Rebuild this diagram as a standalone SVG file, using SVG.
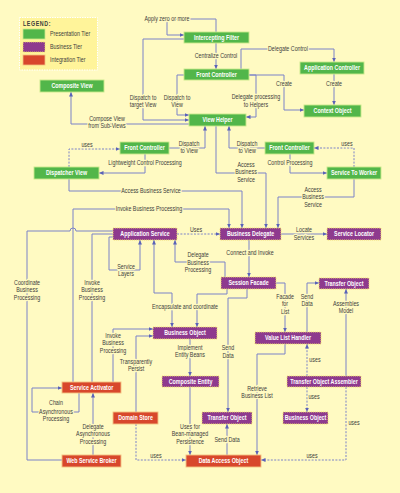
<svg xmlns="http://www.w3.org/2000/svg" width="400" height="493" viewBox="0 0 400 493">
<style>
.n rect{stroke-width:0.9}
.g rect{fill:#52b64a;stroke:#c8e88a}
.p rect{fill:#8e3a8e;stroke:#f0dc70;stroke-dasharray:1.2 0.8}
.r rect{fill:#d8472c;stroke:#f3c080}
.n text{font-family:"Liberation Sans",Arial,sans-serif;font-size:6.5px;font-weight:bold;fill:#fff;text-anchor:middle;transform:scaleX(0.82);transform-box:fill-box;transform-origin:center}
.c path{fill:none;stroke:#7b82c8;stroke-width:1}
.c path.d{stroke-dasharray:2 1.4}
.l text{font-family:"Liberation Sans",Arial,sans-serif;font-size:6.5px;fill:#3c3c3c;text-anchor:middle;paint-order:stroke;stroke:#fffac2;stroke-width:2.6px;stroke-linejoin:round;transform:scaleX(0.82);transform-box:fill-box;transform-origin:center}
.lg{font-family:"Liberation Sans",Arial,sans-serif;font-size:6.5px;fill:#3c3c3c;transform:scaleX(0.82);transform-box:fill-box;transform-origin:left}
</style>
<defs>
<marker id="a" viewBox="0 0 6 6" refX="6" refY="3" markerWidth="4.5" markerHeight="4.5" markerUnits="userSpaceOnUse" orient="auto"><path d="M0,0.3 L6,3 L0,5.7 z" fill="#5a62b8"/></marker>
<marker id="s" viewBox="0 0 6 6" refX="0" refY="3" markerWidth="4.5" markerHeight="4.5" markerUnits="userSpaceOnUse" orient="auto"><path d="M6,0.3 L0,3 L6,5.7 z" fill="#5a62b8"/></marker>
</defs>
<rect width="400" height="493" fill="#fffac2"/>
<g id="legend">
<rect x="19.5" y="17.5" width="78" height="52.5" fill="#fff49a" stroke="#ffffff" stroke-width="1" stroke-dasharray="1.5 1"/>
<text x="23" y="26.5" class="lg" style="font-weight:bold;letter-spacing:0.7px">LEGEND:</text>
<rect x="23" y="29" width="22" height="10" fill="#52b64a" stroke="#c8e88a" stroke-width="0.8"/>
<text x="50" y="36.5" class="lg">Presentation Tier</text>
<rect x="23" y="42" width="22" height="10" fill="#8e3a8e" stroke="#f0dc70" stroke-width="0.8" stroke-dasharray="1.2 0.8"/>
<text x="50" y="49.5" class="lg">Business Tier</text>
<rect x="23" y="55" width="22" height="10" fill="#d8472c" stroke="#f3c080" stroke-width="0.8"/>
<text x="50" y="62.5" class="lg">Integration Tier</text>
</g>
<g id="connectors" class="c">
<path d="M216,32 V19 H167 V35 H184" marker-end="url(#a)"/>
<path d="M216,43 V69" marker-end="url(#a)"/>
<path d="M241,69 V49 H334 V62" marker-end="url(#a)"/>
<path d="M334,74 V105" marker-end="url(#a)"/>
<path d="M249,75 H284 V110 H304" marker-end="url(#a)"/>
<path d="M249,75 H256 V117 H246" marker-end="url(#a)"/>
<path d="M184,39 H143 V120 H189" marker-end="url(#a)"/>
<path d="M184,75 H177 V115 H189" marker-end="url(#a)"/>
<path d="M189,124 H71 V92" marker-end="url(#a)"/>
<path d="M169,148 H205 V126" marker-end="url(#a)"/>
<path d="M265,148 H229 V126" marker-end="url(#a)"/>
<path class="d" d="M69,167 V149 H120" marker-end="url(#a)"/>
<path d="M145,154 V173 H99" marker-end="url(#a)"/>
<path class="d" d="M354,167 V148 H314" marker-end="url(#a)"/>
<path d="M290,154 V173 H327" marker-end="url(#a)"/>
<path d="M69,179 V191 H242 V228" marker-end="url(#a)"/>
<path d="M216,126 V173 H266 V228" marker-end="url(#a)"/>
<path d="M354,179 V197 H278 V228" marker-end="url(#a)"/>
<path d="M73,382 V209 H229 V228" marker-end="url(#a)"/>
<path d="M62,460 H27 V231 H70 A3,3 0 0 1 76,231 H113"/>
<path d="M92,382 V234 H113"/>
<path d="M113,382 V329 H153" marker-end="url(#a)"/>
<path d="M136,412 V336 H153" marker-end="url(#a)"/>
<path d="M79,393 V412 H32 V388 H62" marker-end="url(#a)"/>
<path d="M93,455 V393" marker-end="url(#a)"/>
<path class="d" d="M136,424 V460 H186" marker-end="url(#a)"/>
<path class="d" d="M177,234 H220" marker-end="url(#a)"/>
<path d="M281,234 H327" marker-end="url(#a)"/>
<path d="M113,237 H109 V270 H140 V240" marker-end="url(#a)"/>
<path d="M154,240 V293 H172 V327" marker-start="url(#s)" marker-end="url(#a)"/>
<path d="M227,289 V294 H197 V327" marker-end="url(#a)"/>
<path d="M247,289 V298 H228 V412" marker-end="url(#a)"/>
<path d="M225,277 V262 H175 V240" marker-end="url(#a)"/>
<path d="M249,240 V277" marker-end="url(#a)"/>
<path d="M276,283 H285 V332" marker-end="url(#a)"/>
<path d="M307,332 V283 H319" marker-end="url(#a)"/>
<path d="M346,376 V289" marker-end="url(#a)"/>
<path class="d" d="M307,376 V344" marker-end="url(#a)"/>
<path class="d" d="M307,387 V412" marker-end="url(#a)"/>
<path class="d" d="M346,387 V460 H261" marker-end="url(#a)"/>
<path d="M285,344 V354 H257 V455" marker-end="url(#a)"/>
<path d="M190,339 V376" marker-end="url(#a)"/>
<path d="M190,387 V455" marker-end="url(#a)"/>
<path d="M227,455 V424" marker-end="url(#a)"/>
</g>
<g id="labels" class="l">
<text x="167" y="21">Apply zero or more</text>
<text x="216" y="58">Centralize Control</text>
<text x="288" y="51">Delegate Control</text>
<text x="334" y="86">Create</text>
<text x="284" y="86">Create</text>
<text x="256" y="99">Delegate processing</text>
<text x="256" y="107">to Helpers</text>
<text x="143" y="100">Dispatch to</text>
<text x="143" y="107.5">target View</text>
<text x="177" y="100">Dispatch to</text>
<text x="177" y="107.5">View</text>
<text x="107" y="121">Compose View</text>
<text x="107" y="128.5">from Sub-Views</text>
<text x="189" y="146">Dispatch</text>
<text x="189" y="153.5">to View</text>
<text x="247" y="146">Dispatch</text>
<text x="247" y="153.5">to View</text>
<text x="87" y="147">uses</text>
<text x="145" y="165">Lightweight Control Processing</text>
<text x="347" y="146">uses</text>
<text x="290" y="165">Control Processing</text>
<text x="151" y="193">Access Business Service</text>
<text x="246" y="167">Access</text>
<text x="246" y="174.5">Business</text>
<text x="246" y="182">Service</text>
<text x="313" y="192">Access</text>
<text x="313" y="199.5">Business</text>
<text x="313" y="207">Service</text>
<text x="149" y="211">Invoke Business Processing</text>
<text x="27" y="285">Coordinate</text>
<text x="27" y="292.5">Business</text>
<text x="27" y="300">Processing</text>
<text x="92" y="285">Invoke</text>
<text x="92" y="292.5">Business</text>
<text x="92" y="300">Processing</text>
<text x="113" y="338">Invoke</text>
<text x="113" y="345.5">Business</text>
<text x="113" y="353">Processing</text>
<text x="136" y="364">Transparently</text>
<text x="136" y="371.5">Persist</text>
<text x="56" y="405">Chain</text>
<text x="56" y="414">Asynchronous</text>
<text x="56" y="421.5">Processing</text>
<text x="93" y="429">Delegate</text>
<text x="93" y="436.5">Asynchronous</text>
<text x="93" y="444">Processing</text>
<text x="156" y="458">uses</text>
<text x="196" y="232">Uses</text>
<text x="304" y="232">Locate</text>
<text x="304" y="240.5">Services</text>
<text x="126" y="269">Service</text>
<text x="126" y="276.5">Layers</text>
<text x="185" y="309">Encapsulate and coordinate</text>
<text x="228" y="350">Send</text>
<text x="228" y="358">Data</text>
<text x="198" y="257">Delegate</text>
<text x="198" y="265">Business</text>
<text x="198" y="272.5">Processing</text>
<text x="250" y="255">Connect and Invoke</text>
<text x="285" y="299">Facade</text>
<text x="285" y="306.5">for</text>
<text x="285" y="314">List</text>
<text x="307" y="299">Send</text>
<text x="307" y="306.5">Data</text>
<text x="346" y="306">Assembles</text>
<text x="346" y="313.5">Model</text>
<text x="315" y="362">uses</text>
<text x="314" y="399">uses</text>
<text x="354" y="425">uses</text>
<text x="312" y="458">uses</text>
<text x="257" y="391">Retrieve</text>
<text x="257" y="398.5">Business List</text>
<text x="190" y="350">Implement</text>
<text x="190" y="357.5">Entity Beans</text>
<text x="190" y="429">Uses for</text>
<text x="190" y="436.5">Bean-managed</text>
<text x="190" y="444">Persistence</text>
<text x="227" y="442">Send Data</text>
</g>
<g id="intercepting-filter" class="n g"><rect x="184" y="32" width="65" height="11"/><text x="216.5" y="39.8">Intercepting Filter</text></g>
<g id="front-controller" class="n g"><rect x="184" y="69" width="65" height="11"/><text x="216.5" y="76.8">Front Controller</text></g>
<g id="application-controller" class="n g"><rect x="300" y="62" width="64" height="12"/><text x="332" y="70.3">Application Controller</text></g>
<g id="context-object" class="n g"><rect x="304" y="105" width="57" height="12"/><text x="332.5" y="113.3">Context Object</text></g>
<g id="composite-view" class="n g"><rect x="40" y="80" width="64" height="12"/><text x="72" y="88.3">Composite View</text></g>
<g id="view-helper" class="n g"><rect x="189" y="114" width="57" height="12"/><text x="217.5" y="122.3">View Helper</text></g>
<g id="front-controller-left" class="n g"><rect x="120" y="142" width="49" height="12"/><text x="144.5" y="150.3">Front Controller</text></g>
<g id="front-controller-right" class="n g"><rect x="265" y="142" width="49" height="12"/><text x="289.5" y="150.3">Front Controller</text></g>
<g id="dispatcher-view" class="n g"><rect x="34" y="167" width="65" height="12"/><text x="66.5" y="175.3">Dispatcher View</text></g>
<g id="service-to-worker" class="n g"><rect x="327" y="167" width="54" height="12"/><text x="354" y="175.3">Service To Worker</text></g>
<g id="application-service" class="n p"><rect x="113" y="228" width="64" height="12"/><text x="145" y="236.3">Application Service</text></g>
<g id="business-delegate" class="n p"><rect x="220" y="228" width="61" height="12"/><text x="250.5" y="236.3">Business Delegate</text></g>
<g id="service-locator" class="n p"><rect x="327" y="228" width="54" height="12"/><text x="354" y="236.3">Service Locator</text></g>
<g id="session-facade" class="n p"><rect x="221" y="277" width="55" height="12"/><text x="248.5" y="285.3">Session Facade</text></g>
<g id="transfer-object-top" class="n p"><rect x="319" y="278" width="50" height="11"/><text x="344" y="285.8">Transfer Object</text></g>
<g id="value-list-handler" class="n p"><rect x="255" y="332" width="66" height="12"/><text x="288" y="340.3">Value List Handler</text></g>
<g id="business-object" class="n p"><rect x="153" y="327" width="64" height="12"/><text x="185" y="335.3">Business Object</text></g>
<g id="composite-entity" class="n p"><rect x="162" y="376" width="57" height="11"/><text x="190.5" y="383.8">Composite Entity</text></g>
<g id="transfer-object-assembler" class="n p"><rect x="287" y="376" width="74" height="11"/><text x="324" y="383.8">Transfer Object Assembler</text></g>
<g id="service-activator" class="n r"><rect x="62" y="382" width="59" height="11"/><text x="91.5" y="389.8">Service Activator</text></g>
<g id="domain-store" class="n r"><rect x="113" y="412" width="45" height="12"/><text x="135.5" y="420.3">Domain Store</text></g>
<g id="transfer-object-bottom" class="n p"><rect x="202" y="412" width="50" height="12"/><text x="227" y="420.3">Transfer Object</text></g>
<g id="business-object-right" class="n p"><rect x="283" y="412" width="45" height="12"/><text x="305.5" y="420.3">Business Object</text></g>
<g id="web-service-broker" class="n r"><rect x="62" y="455" width="59" height="12"/><text x="91.5" y="463.3">Web Service Broker</text></g>
<g id="data-access-object" class="n r"><rect x="186" y="455" width="75" height="12"/><text x="223.5" y="463.3">Data Access Object</text></g>
</svg>
